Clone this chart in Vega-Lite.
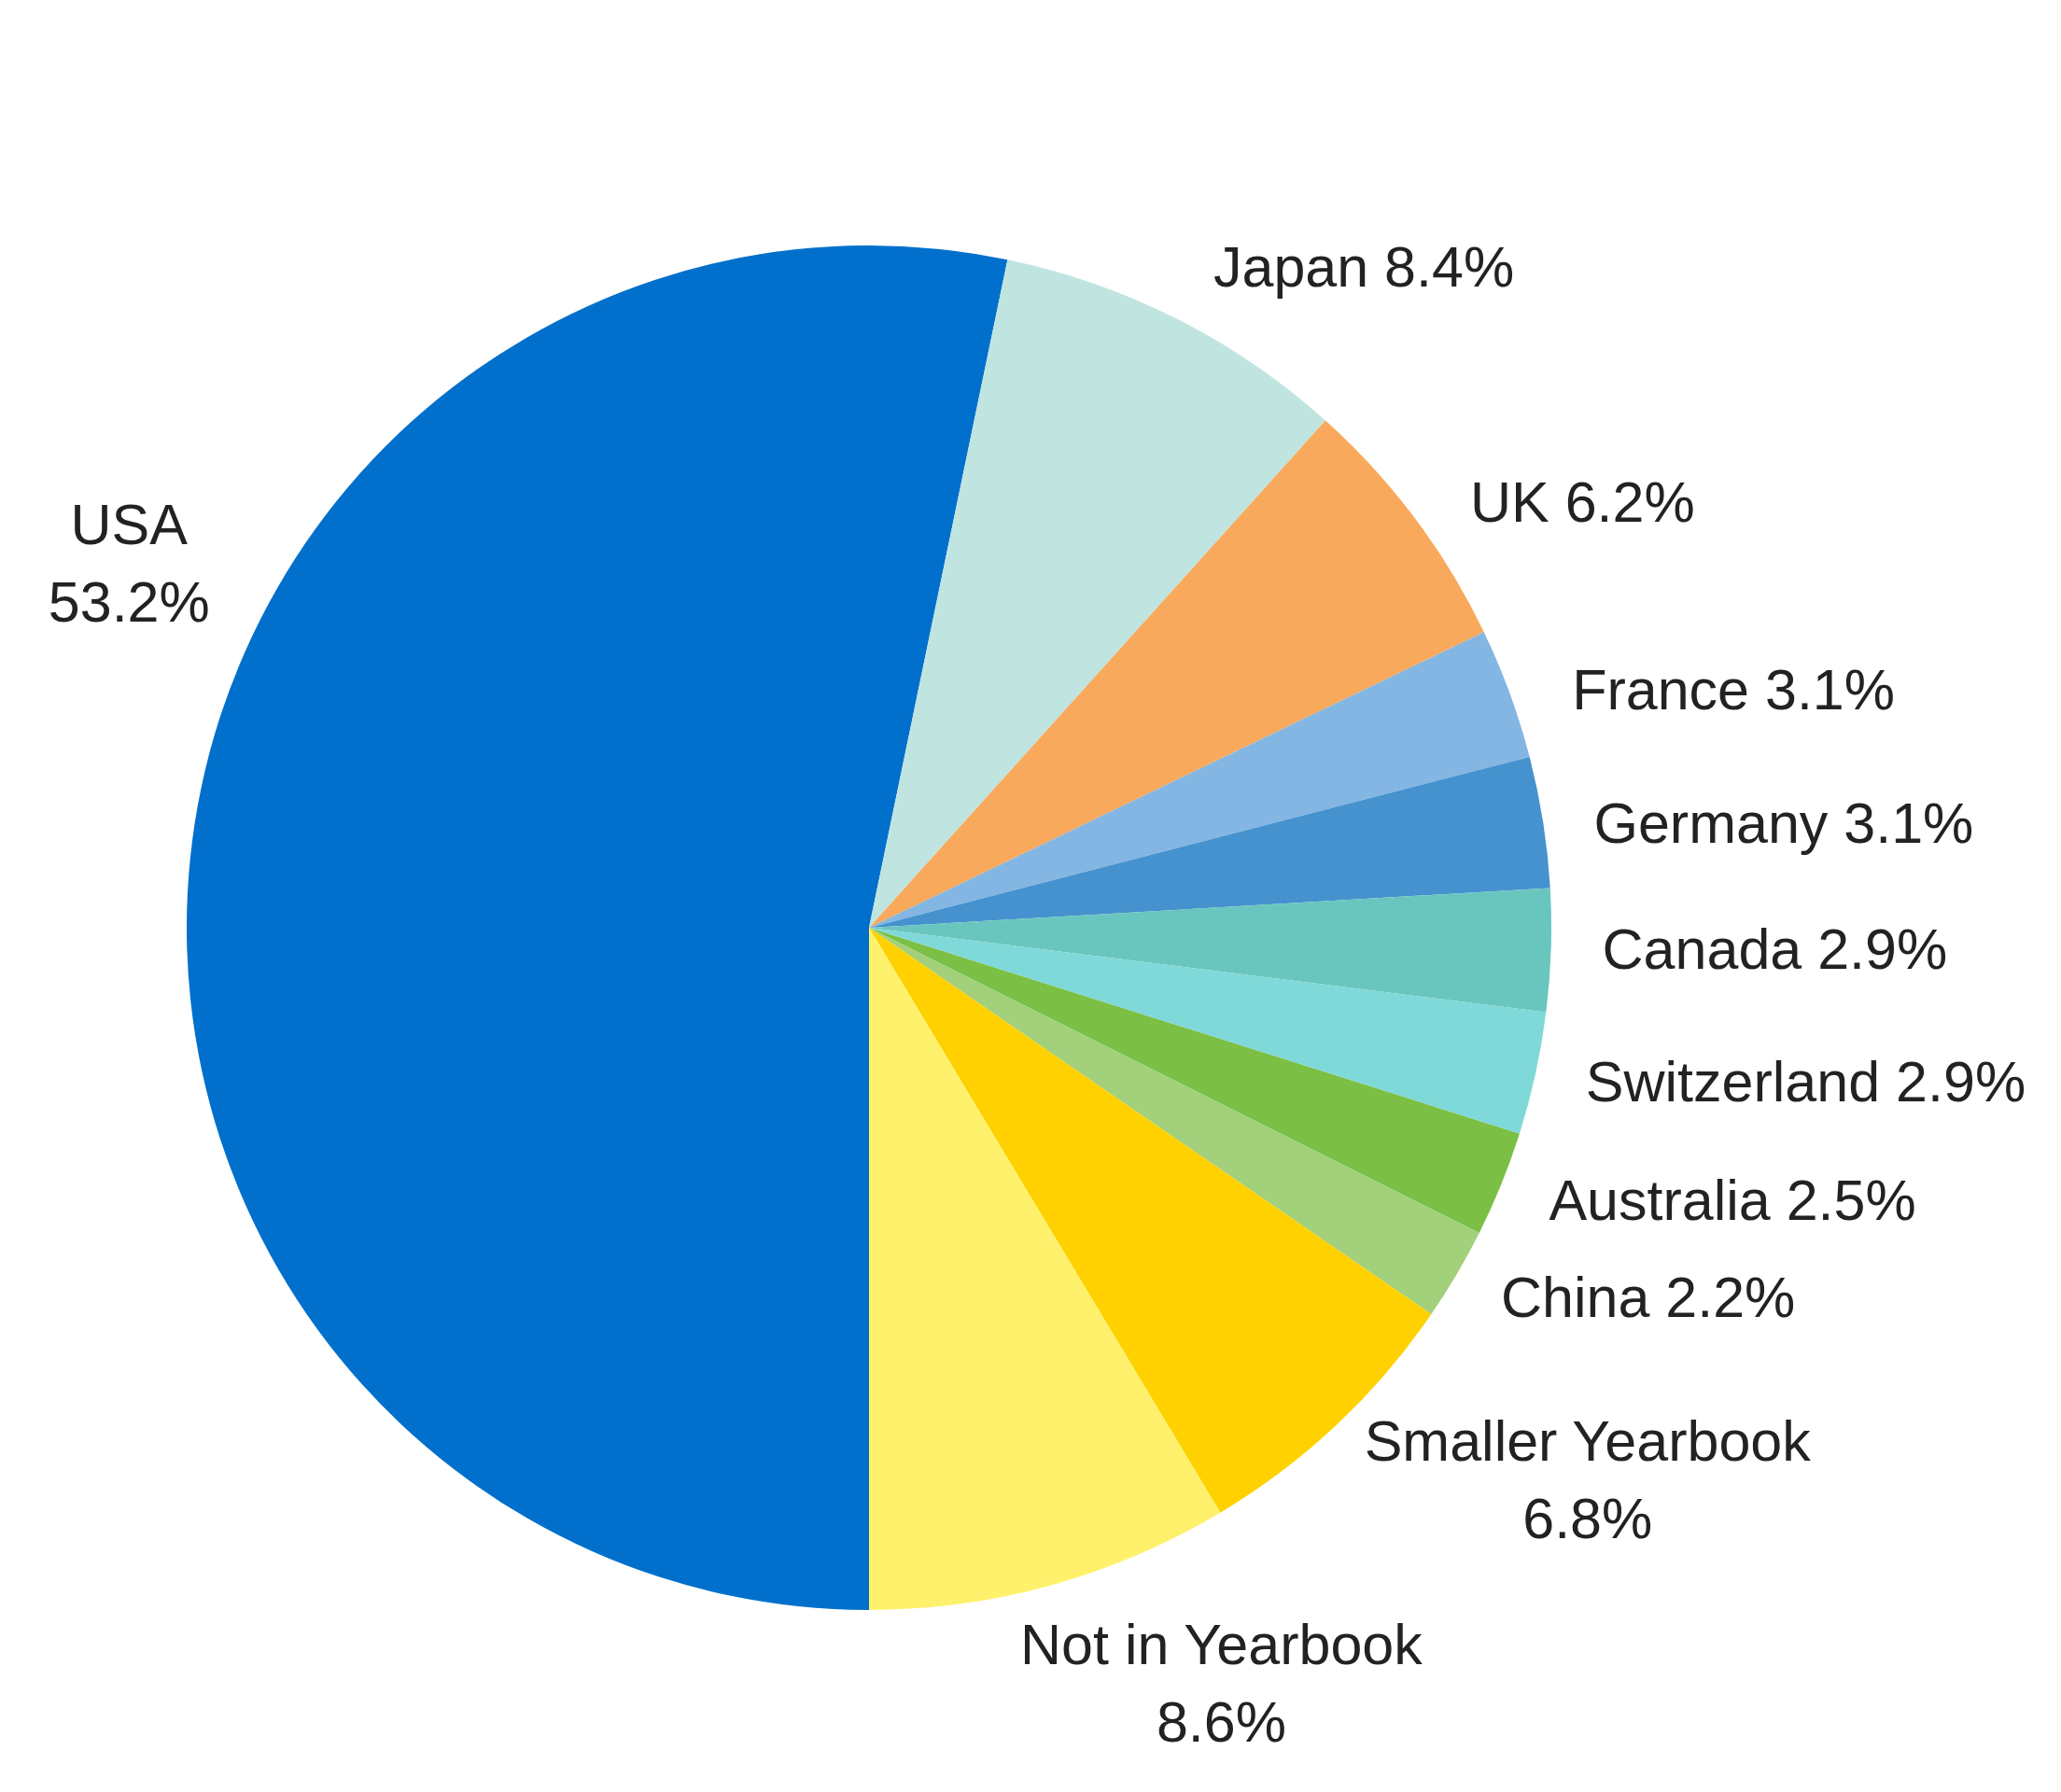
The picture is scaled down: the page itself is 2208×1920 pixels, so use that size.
{
  "$schema": "https://vega.github.io/schema/vega-lite/v6.json",
  "width": 1462,
  "height": 1462,
  "autosize": {"type": "none"},
  "padding": {"left": 200, "top": 263, "right": 546, "bottom": 195},
  "background": "white",
  "config": {"view": {"stroke": null}, "text": {"font": "Liberation Sans", "fontSize": 61, "color": "#222222"}},
  "data": {
    "values": [
      {"country": "USA", "value": 53.2, "label": "USA\n53.2%", "rank": 1},
      {"country": "Japan", "value": 8.4, "label": "Japan 8.4%", "rank": 2},
      {"country": "UK", "value": 6.2, "label": "UK 6.2%", "rank": 3},
      {"country": "France", "value": 3.1, "label": "France 3.1%", "rank": 4},
      {"country": "Germany", "value": 3.1, "label": "Germany 3.1%", "rank": 5},
      {"country": "Canada", "value": 2.9, "label": "Canada 2.9%", "rank": 6},
      {"country": "Switzerland", "value": 2.9, "label": "Switzerland 2.9%", "rank": 7},
      {"country": "Australia", "value": 2.5, "label": "Australia 2.5%", "rank": 8},
      {"country": "China", "value": 2.2, "label": "China 2.2%", "rank": 9},
      {"country": "Smaller Yearbook", "value": 6.8, "label": "Smaller Yearbook\n6.8%", "rank": 10},
      {"country": "Not in Yearbook", "value": 8.6, "label": "Not in Yearbook\n8.6%", "rank": 11}
    ]
  },
  "encoding": {
    "theta": {"field": "value", "type": "quantitative", "stack": true, "scale": {"range": [3.14159265, 9.42477796]}},
    "order": {"field": "rank", "type": "quantitative", "sort": "ascending"}
  },
  "layer": [
    {
      "mark": {"type": "arc", "stroke": null},
      "encoding": {
        "color": {
          "field": "country",
          "type": "nominal",
          "legend": null,
          "scale": {
            "domain": ["USA", "Japan", "UK", "France", "Germany", "Canada", "Switzerland", "Australia", "China", "Smaller Yearbook", "Not in Yearbook"],
            "range": ["#0070CC", "#C0E5E1", "#F8A95C", "#83B6E3", "#4592CE", "#69C6BF", "#80D9D9", "#7BBF44", "#A3D07B", "#FFD100", "#FFF16B"]
          }
        }
      }
    },
    {
      "mark": {"type": "text", "radius": 786, "align": "left", "baseline": "middle", "dx": 14, "dy": -4},
      "encoding": {
        "text": {"condition": {"test": "datum.rank == 2", "field": "label"}, "value": ""}
      }
    },
    {
      "mark": {"type": "text", "radius": 786, "align": "left", "baseline": "middle", "dx": 15, "dy": 18},
      "encoding": {
        "text": {"condition": {"test": "datum.rank == 3 || datum.rank == 4", "field": "label"}, "value": ""}
      }
    },
    {
      "mark": {"type": "text", "radius": 786, "align": "left", "baseline": "middle", "dx": 0, "dy": 13},
      "encoding": {
        "text": {"condition": {"test": "datum.rank == 5", "field": "label"}, "value": ""}
      }
    },
    {
      "mark": {"type": "text", "radius": 786, "align": "left", "baseline": "middle"},
      "encoding": {
        "text": {"condition": {"test": "datum.rank >= 6 && datum.rank <= 9", "field": "label"}, "value": ""}
      }
    },
    {
      "mark": {"type": "text", "radius": 820, "align": "center", "baseline": "middle", "lineBreak": "\n", "lineHeight": 83, "dx": 23, "dy": -345},
      "encoding": {
        "text": {"condition": {"test": "datum.rank == 1", "field": "label"}, "value": ""}
      }
    },
    {
      "mark": {"type": "text", "radius": 890, "align": "center", "baseline": "middle", "lineBreak": "\n", "lineHeight": 83, "dx": 160, "dy": -95},
      "encoding": {
        "text": {"condition": {"test": "datum.rank == 10", "field": "label"}, "value": ""}
      }
    },
    {
      "mark": {"type": "text", "radius": 870, "align": "center", "baseline": "middle", "lineBreak": "\n", "lineHeight": 83, "dx": 145, "dy": -67},
      "encoding": {
        "text": {"condition": {"test": "datum.rank == 11", "field": "label"}, "value": ""}
      }
    }
  ]
}
